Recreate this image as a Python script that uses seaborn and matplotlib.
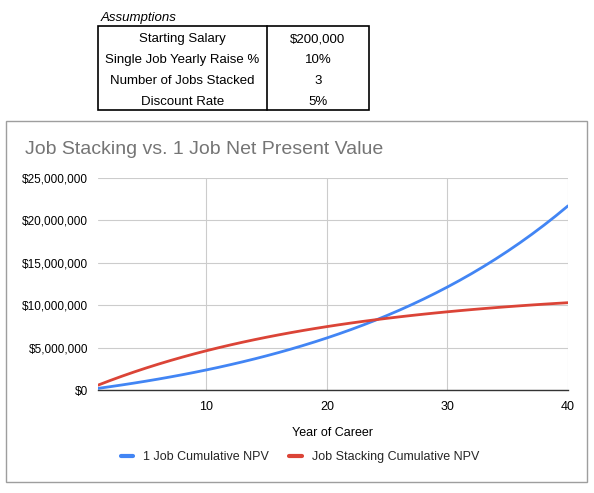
import matplotlib
matplotlib.use("Agg")
import matplotlib.pyplot as plt
from matplotlib.patches import Rectangle
from matplotlib.ticker import FuncFormatter
from matplotlib.lines import Line2D
import seaborn as sns
import pandas as pd

# ---- data ----
years = list(range(1, 41))
one_job_npv = [190476, 390023, 599072, 818076, 1047508, 1287864, 1539668, 1803460, 2079816, 2369332,
               2672632, 2990376, 3323252, 3671980, 4037312, 4420040, 4820992, 5241040, 5681088, 6142092,
               6625048, 7131000, 7661048, 8216336, 8798064, 9407496, 10045948, 10714800, 11415504, 12149576,
               12918604, 13724252, 14568264, 15452468, 16378776, 17349192, 18365820, 19430860, 20546616, 21715504]
stack_npv = [571429, 1115646, 1633948, 2127570, 2597683, 3045414, 3471824, 3877928, 4264692, 4633040,
             4983852, 5317956, 5636148, 5939184, 6227796, 6502656, 6764436, 7013748, 7251192, 7477332,
             7692696, 7897800, 8093148, 8279184, 8456364, 8625108, 8785824, 8938872, 9084648, 9223476,
             9355692, 9481608, 9601524, 9715740, 9824520, 9928116, 10026768, 10120740, 10210224, 10295448]
series_names = ["1 Job Cumulative NPV", "Job Stacking Cumulative NPV"]
assump_labels = ["Starting Salary", "Single Job Yearly Raise %", "Number of Jobs Stacked", "Discount Rate"]
assump_values = ["$200,000", "10%", "3", "5%"]
x_ticks = [10, 20, 30, 40]
y_ticks = [0, 5_000_000, 10_000_000, 15_000_000, 20_000_000, 25_000_000]

df = pd.DataFrame({
    "Year of Career": years * 2,
    "NPV": one_job_npv + stack_npv,
    "Series": [series_names[0]] * len(years) + [series_names[1]] * len(years),
})

sns.set_theme(style="white")
plt.rcParams["font.family"] = ["Liberation Sans", "DejaVu Sans"]

fig = plt.figure(figsize=(5.94, 4.93), dpi=100)
fig.patch.set_facecolor("white")

W, H = 594.0, 493.0
def fx(px): return px / W
def fy(py): return 1 - py / H

# chart border
fig.patches.append(Rectangle((fx(6), fy(482)), fx(587) - fx(6), fy(121) - fy(482),
                             transform=fig.transFigure, fill=False, edgecolor="#9e9e9e", linewidth=1.0))

# ---- assumptions table ----
fig.text(fx(101), fy(17), "Assumptions", fontsize=9.5, style="italic", va="center_baseline",
         ha="left", color="black")
tl, tr, tt, tb, tdiv = 98, 369, 26, 110, 267
fig.patches.append(Rectangle((fx(tl), fy(tb)), fx(tr) - fx(tl), fy(tt) - fy(tb),
                             transform=fig.transFigure, fill=False, edgecolor="black", linewidth=1.2))
fig.lines.append(Line2D([fx(tdiv), fx(tdiv)], [fy(tt), fy(tb)], transform=fig.transFigure,
                        color="black", linewidth=1.2))
row_h = (tb - tt) / len(assump_labels)
for i, (lab, val) in enumerate(zip(assump_labels, assump_values)):
    yc = tt + row_h * (i + 0.5) + 1
    fig.text(fx((tl + tdiv) / 2), fy(yc), lab, fontsize=9.5, ha="center", va="center_baseline", color="black")
    fig.text(fx((tdiv + tr) / 2), fy(yc), val, fontsize=9.5, ha="center", va="center_baseline", color="black")

# ---- chart ----
ax = fig.add_axes([fx(98), fy(390), fx(568) - fx(98), fy(178) - fy(390)])
palette = {series_names[0]: "#4285F4", series_names[1]: "#DB4437"}
sns.lineplot(data=df, x="Year of Career", y="NPV", hue="Series", palette=palette,
             linewidth=2.0, ax=ax, legend=False)

ax.set_xlim(1, 40)
ax.set_ylim(0, 25_000_000)
ax.set_xticks(x_ticks)
ax.set_yticks(y_ticks)
ax.yaxis.set_major_formatter(FuncFormatter(lambda v, p: "${:,.0f}".format(v)))
ax.grid(True, color="#cccccc", linewidth=0.8)
ax.set_axisbelow(True)
for s in ["left", "right", "top"]:
    ax.spines[s].set_visible(False)
ax.spines["bottom"].set_color("#333333")
ax.spines["bottom"].set_linewidth(1.0)
ax.tick_params(axis="y", length=0, labelsize=8.5, colors="black", pad=7)
ax.tick_params(axis="x", length=0, labelsize=9, colors="black", pad=8)
ax.set_xlabel("")
ax.set_ylabel("")

fig.text(fx(25), fy(150), "Job Stacking vs. 1 Job Net Present Value", fontsize=14,
         color="#757575", ha="left", va="center")
fig.text(fx(333), fy(433), "Year of Career", fontsize=9, ha="center", va="center", color="black")

handles = [Line2D([0], [0], color=palette[n], linewidth=3) for n in series_names]
fig.legend(handles, series_names, loc="center", bbox_to_anchor=(fx(300), fy(457)), ncol=2,
           frameon=False, fontsize=9, handlelength=1.0, handletextpad=0.8, columnspacing=1.6)

fig.savefig("out.png", dpi=100)
